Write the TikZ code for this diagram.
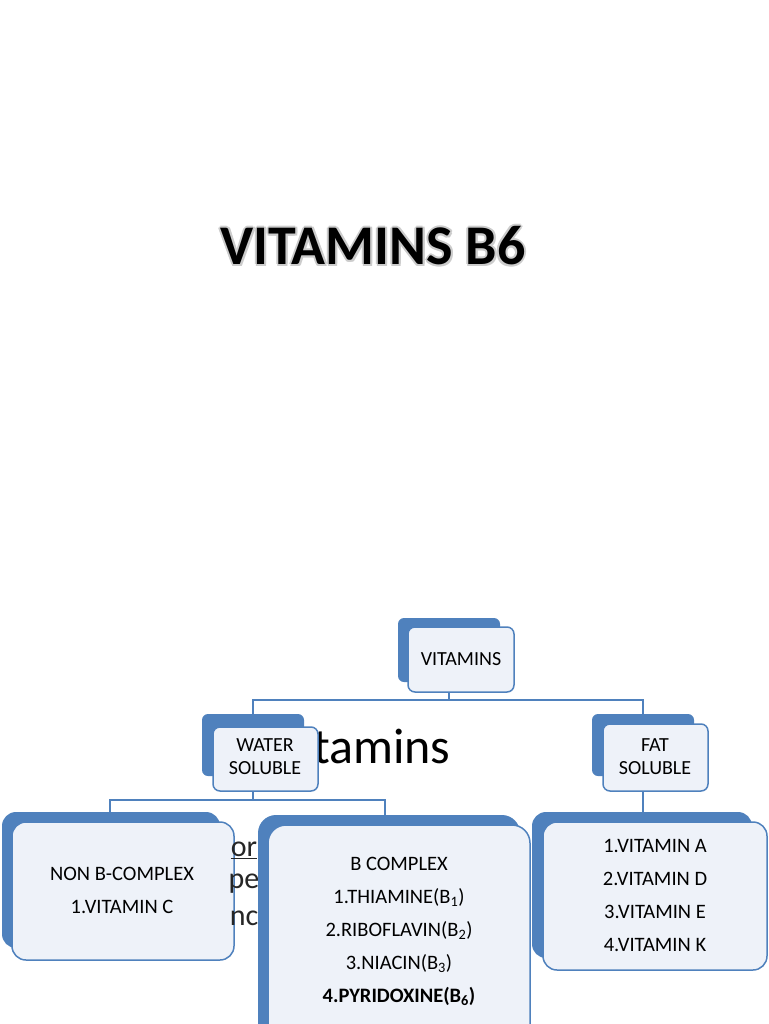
\documentclass[tikz,border=0pt]{standalone}
\usepackage{fontspec}
\setmainfont{Carlito}
\definecolor{bblue}{HTML}{4F81BD}
\definecolor{lfill}{HTML}{EEF2F9}
\begin{document}
\begin{tikzpicture}[x=1pt,y=-1pt,
  back/.style={fill=bblue,rounded corners=6pt},
  front/.style={fill=lfill,draw=bblue,line width=1.5pt,rounded corners=7pt},
  conn/.style={draw=bblue,line width=1.2pt},
  halo/.style={text=gray!40,font=\bfseries\fontsize{56}{56}\selectfont},
  frag/.style={text=black!85,font=\fontsize{30}{30}\selectfont},
  lbl/.style={font=\fontsize{20}{23}\selectfont,align=center},
  lst/.style={font=\fontsize{20.5}{33}\selectfont,align=center}]
\useasboundingbox (0,0) rectangle (768,1024);
\clip (0,0) rectangle (768,1024);
% title
\foreach \dx/\dy in {-2/0,2/0,0/-2,0/2,-1.5/-1.5,1.5/1.5,-1.5/1.5,1.5/-1.5}
  \node[halo] at (373+\dx,246+\dy) {VITAMINS B6};
\node (title) [text=black,font=\bfseries\fontsize{56}{56}\selectfont] at (373,246) {VITAMINS B6};
% background text
\node (bg) [font=\fontsize{50}{50}\selectfont] at (362,746) {Vitamins};
% connectors
\coordinate (j1) at (449,700);
\coordinate (j2) at (253,800);
\draw[conn] (449,692) -- (j1);
\draw[conn] (253,727) |- (j1) -| (643,724);
\draw[conn] (253,791) -- (j2);
\draw[conn] (110,814) |- (j2) -| (385,816);
\draw[conn] (643,791) -- (643,814);
% VITAMINS
\fill[back] (398,618) rectangle (500,682);
\draw[front] (408,627) rectangle (514,692);
\node (vit) [lbl] at (461,659) {VITAMINS};
% WATER
\fill[back] (202,714) rectangle (304,776);
\draw[front] (213,727) rectangle (318,791);
\node (water) [lbl] at (265,757) {WATER\\SOLUBLE};
% FAT
\fill[back] (592,714) rectangle (694,776);
\draw[front] (603,724) rectangle (708,791);
\node (fat) [lbl] at (655,757) {FAT\\SOLUBLE};
% NON B
\fill[back,rounded corners=14pt] (2,812) rectangle (220,948);
\draw[front,rounded corners=14pt] (12,822) rectangle (234,960);
\node (nonb) [lst] at (122,890) {NON B-COMPLEX\\1.VITAMIN C};
% fragments between boxes
\node (f1) [frag] at (244,850) {\underline{or}};
\node (f2) [frag] at (244,884) {pe};
\node (f3) [frag] at (244,918) {nc};
% B complex
\fill[back,rounded corners=18pt] (258,815) rectangle (520,1060);
\draw[front,rounded corners=18pt] (268,825) rectangle (530,1070);
\node (bc) [lst,anchor=north] at (399,854) {B COMPLEX\\1.THIAMINE(B\textsubscript{1})\\2.RIBOFLAVIN(B\textsubscript{2})\\3.NIACIN(B\textsubscript{3})\\\textbf{4.PYRIDOXINE(B\textsubscript{6})}};
% Fat list
\fill[back,rounded corners=14pt] (532,812) rectangle (752,958);
\draw[front,rounded corners=14pt] (543,822) rectangle (767,970);
\node (fl) [lst] at (655,895) {1.VITAMIN A\\2.VITAMIN D\\3.VITAMIN E\\4.VITAMIN K};
\end{tikzpicture}
\end{document}
